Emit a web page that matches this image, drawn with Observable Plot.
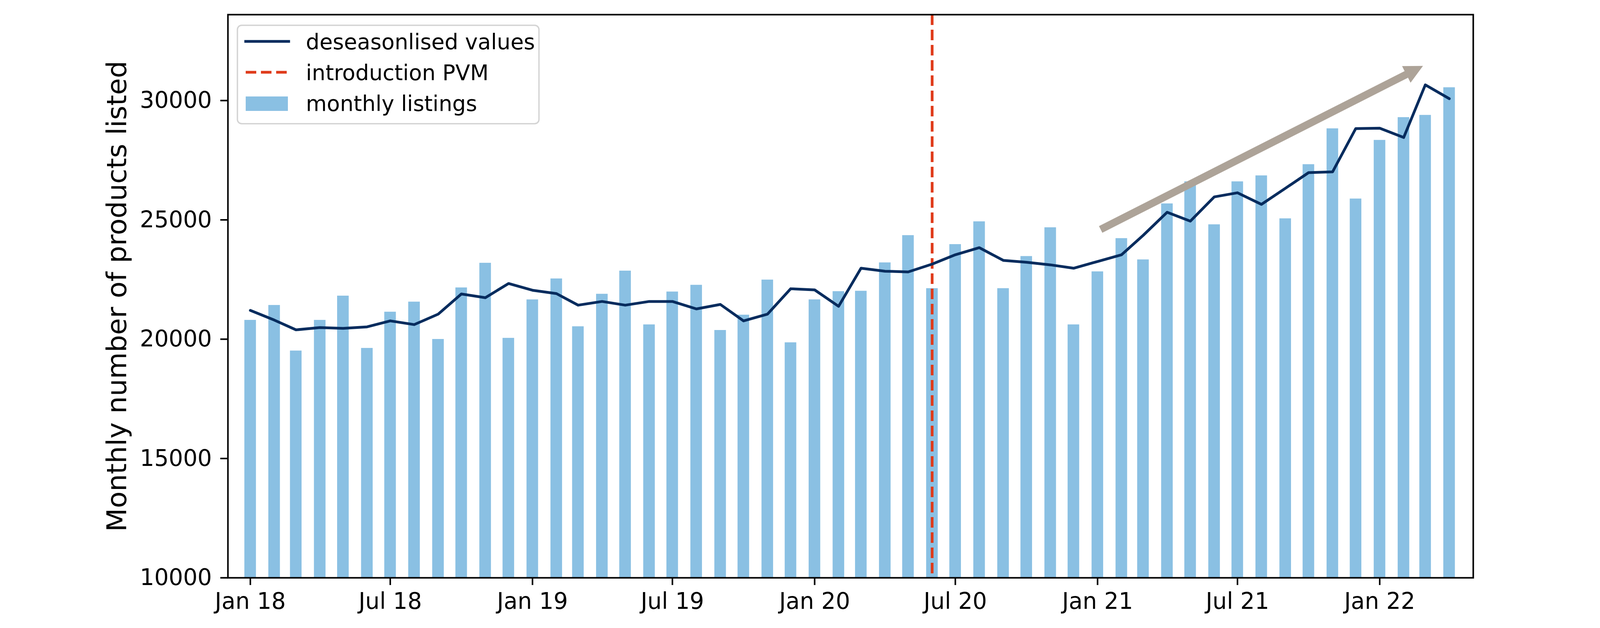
<!DOCTYPE html>
<html>
<head>
<meta charset="utf-8">
<script src="https://cdn.jsdelivr.net/npm/d3@7"></script>
<script src="https://cdn.jsdelivr.net/npm/@observablehq/plot@0.6"></script>
<style>
  html, body { margin: 0; padding: 0; background: #ffffff; overflow: hidden; }
  #wrap { position: relative; font-family: "DejaVu Sans", sans-serif; }
  #legend { position: absolute; }
</style>
</head>
<body>
<div id="wrap"></div>
<script>
// ---- data ----
const months = [
  "2018-01","2018-02","2018-03","2018-04","2018-05","2018-06","2018-07","2018-08","2018-09","2018-10","2018-11","2018-12",
  "2019-01","2019-02","2019-03","2019-04","2019-05","2019-06","2019-07","2019-08","2019-09","2019-10","2019-11","2019-12",
  "2020-01","2020-02","2020-03","2020-04","2020-05","2020-06","2020-07","2020-08","2020-09","2020-10","2020-11","2020-12",
  "2021-01","2021-02","2021-03","2021-04","2021-05","2021-06","2021-07","2021-08","2021-09","2021-10","2021-11","2021-12",
  "2022-01","2022-02","2022-03","2022-04"
];
const monthlyListings = [
  20800, 21425, 19515, 20800, 21816, 19625, 21143, 21565, 20000, 22160, 23193, 20047,
  21659, 22536, 20532, 21894, 22864, 20611, 21988, 22270, 20376, 21018, 22489, 19860,
  21659, 22004, 22020, 23209, 24351, 22129, 23975, 24930, 22129, 23475, 24680, 20611,
  22833, 24226, 23334, 25681, 26605, 24805, 26605, 26855, 25055, 27325, 28827, 25885,
  28342, 29296, 29390, 30548
];
const deseasonalised = [
  21205, 20800, 20392, 20486, 20455, 20517, 20767, 20611, 21049, 21894, 21738, 22332,
  22050, 21910, 21425, 21581, 21425, 21581, 21581, 21268, 21456, 20767, 21049, 22113,
  22066, 21378, 22974, 22849, 22818, 23146, 23537, 23835, 23303, 23224, 23115, 22974,
  23256, 23537, 24351, 25320, 24946, 25963, 26135, 25650, 26323, 26980, 27011, 28827,
  28843, 28451, 30658, 30079
];
const xTickDates = ["2018-01-01","2018-07-01","2019-01-01","2019-07-01","2020-01-01","2020-07-01","2021-01-01","2021-07-01","2022-01-01"];
const yTickValues = [10000, 15000, 20000, 25000, 30000];
const pvmIntroduction = ["2020-06-01"];
const trendArrowStart = ["2021-01-05", 24600];
const trendArrowEnd = ["2022-02-26", 31450];
const legendLabels = ["deseasonlised values", "introduction PVM", "monthly listings"];
const yLabel = "Monthly number of products listed";

// ---- colours ----
const BAR = "#8ac0e3", NAVY = "#072c5e", RED = "#df3b1a", ARROW = "#ada398";

// ---- page size: the reference is 4933×1608; follow the real viewport ----
const REF_W = 4933, REF_H = 1608;
const W = Math.round(window.innerWidth || REF_W);
const H = Math.round(window.innerHeight || REF_H);
const kx = W / REF_W, ky = H / REF_H;

// ---- build table ----
const parse = d3.utcParse("%Y-%m");
const table = months.map((m, i) => ({date: parse(m), listings: monthlyListings[i], deseason: deseasonalised[i]}));
const halfBar = 7.5 * 864e5;
const arrowRow = [{
  x1: new Date(trendArrowStart[0]), y1: trendArrowStart[1],
  x2: new Date(trendArrowEnd[0]), y2: trendArrowEnd[1]
}];

function headMarker(color, context) {
  const m = d3.create("svg:marker")
    .attr("viewBox", "0 -24 48 48")
    .attr("markerWidth", 48)
    .attr("markerHeight", 48)
    .attr("markerUnits", "userSpaceOnUse")
    .attr("refX", 48)
    .attr("refY", 0)
    .attr("orient", "auto");
  m.append("path").attr("d", "M0,-24L48,0L0,24Z").attr("fill", ARROW).attr("stroke", "none");
  return m.node();
}

const mLeft = Math.round(702 * kx), mRight = Math.round(391 * kx);
const mTop = Math.round(37 * ky), mBottom = Math.round(129 * ky);

const chart = Plot.plot({
  width: W,
  height: H,
  marginLeft: mLeft,
  marginRight: mRight,
  marginTop: mTop,
  marginBottom: mBottom,
  style: {fontFamily: "DejaVu Sans", color: "black", background: "white", overflow: "visible"},
  x: {type: "utc", domain: [new Date("2017-12-03"), new Date("2022-05-02")]},
  y: {domain: [10000, 33600]},
  marks: [
    Plot.rectY(table, {
      x1: d => new Date(+d.date - halfBar),
      x2: d => new Date(+d.date + halfBar),
      y1: 0, y2: "listings", fill: BAR, clip: true
    }),
    Plot.ruleX(pvmIntroduction.map(d => new Date(d)), {stroke: RED, strokeWidth: 7, strokeDasharray: "27,12"}),
    Plot.line(table, {x: "date", y: "deseason", stroke: NAVY, strokeWidth: 7, strokeLinejoin: "round"}),
    Plot.arrow(arrowRow, {x1: "x1", y1: "y1", x2: "x2", y2: "y2", stroke: ARROW, strokeWidth: 19, headLength: 0, insetEnd: 40, strokeLinecap: "butt"}),
    Plot.link(arrowRow, {x1: "x1", y1: "y1", x2: "x2", y2: "y2", stroke: ARROW, strokeOpacity: 0, markerEnd: headMarker}),
    Plot.axisX({ticks: xTickDates.map(d => new Date(d)), tickFormat: d3.utcFormat("%b %y"), tickSize: 19, tickPadding: 19, fontSize: 58, strokeWidth: 4, label: null}),
    Plot.axisY({ticks: yTickValues, tickFormat: d3.format("d"), tickSize: 19, tickPadding: 22, fontSize: 58, strokeWidth: 4, label: null}),
    Plot.axisY({ticks: [], label: yLabel, labelAnchor: "center", labelOffset: 310, labelArrow: "none", fontSize: 70, tickSize: 0}),
    Plot.frame({stroke: "black", strokeWidth: 4})
  ]
});

const wrap = document.getElementById("wrap");
wrap.style.width = `${W}px`;
wrap.style.height = `${H}px`;
wrap.appendChild(chart);

// ---- legend (inside the axes, upper left) ----
const lg = d3.select(wrap).append("svg")
  .attr("id", "legend")
  .style("left", `${mLeft + 23}px`).style("top", `${mTop + 26}px`)
  .attr("width", 776).attr("height", 256)
  .style("font-family", "DejaVu Sans").style("font-size", "55px");
lg.append("rect").attr("x", 1.75).attr("y", 1.75).attr("width", 772).attr("height", 252)
  .attr("rx", 11).attr("fill", "white").attr("fill-opacity", 0.8)
  .attr("stroke", "#d4d4d4").attr("stroke-width", 3.5);
lg.append("line").attr("x1", 23).attr("x2", 133).attr("y1", 43).attr("y2", 43)
  .attr("stroke", NAVY).attr("stroke-width", 7).attr("stroke-linecap", "square");
lg.append("line").attr("x1", 23).attr("x2", 133).attr("y1", 122).attr("y2", 122)
  .attr("stroke", RED).attr("stroke-width", 7).attr("stroke-dasharray", "27,12");
lg.append("rect").attr("x", 23).attr("y", 184).attr("width", 108).attr("height", 37).attr("fill", BAR);
const baselines = [63, 142, 221];
legendLabels.forEach((t, i) => {
  lg.append("text").attr("x", 177).attr("y", baselines[i]).attr("fill", "black").text(t);
});
</script>
</body>
</html>
